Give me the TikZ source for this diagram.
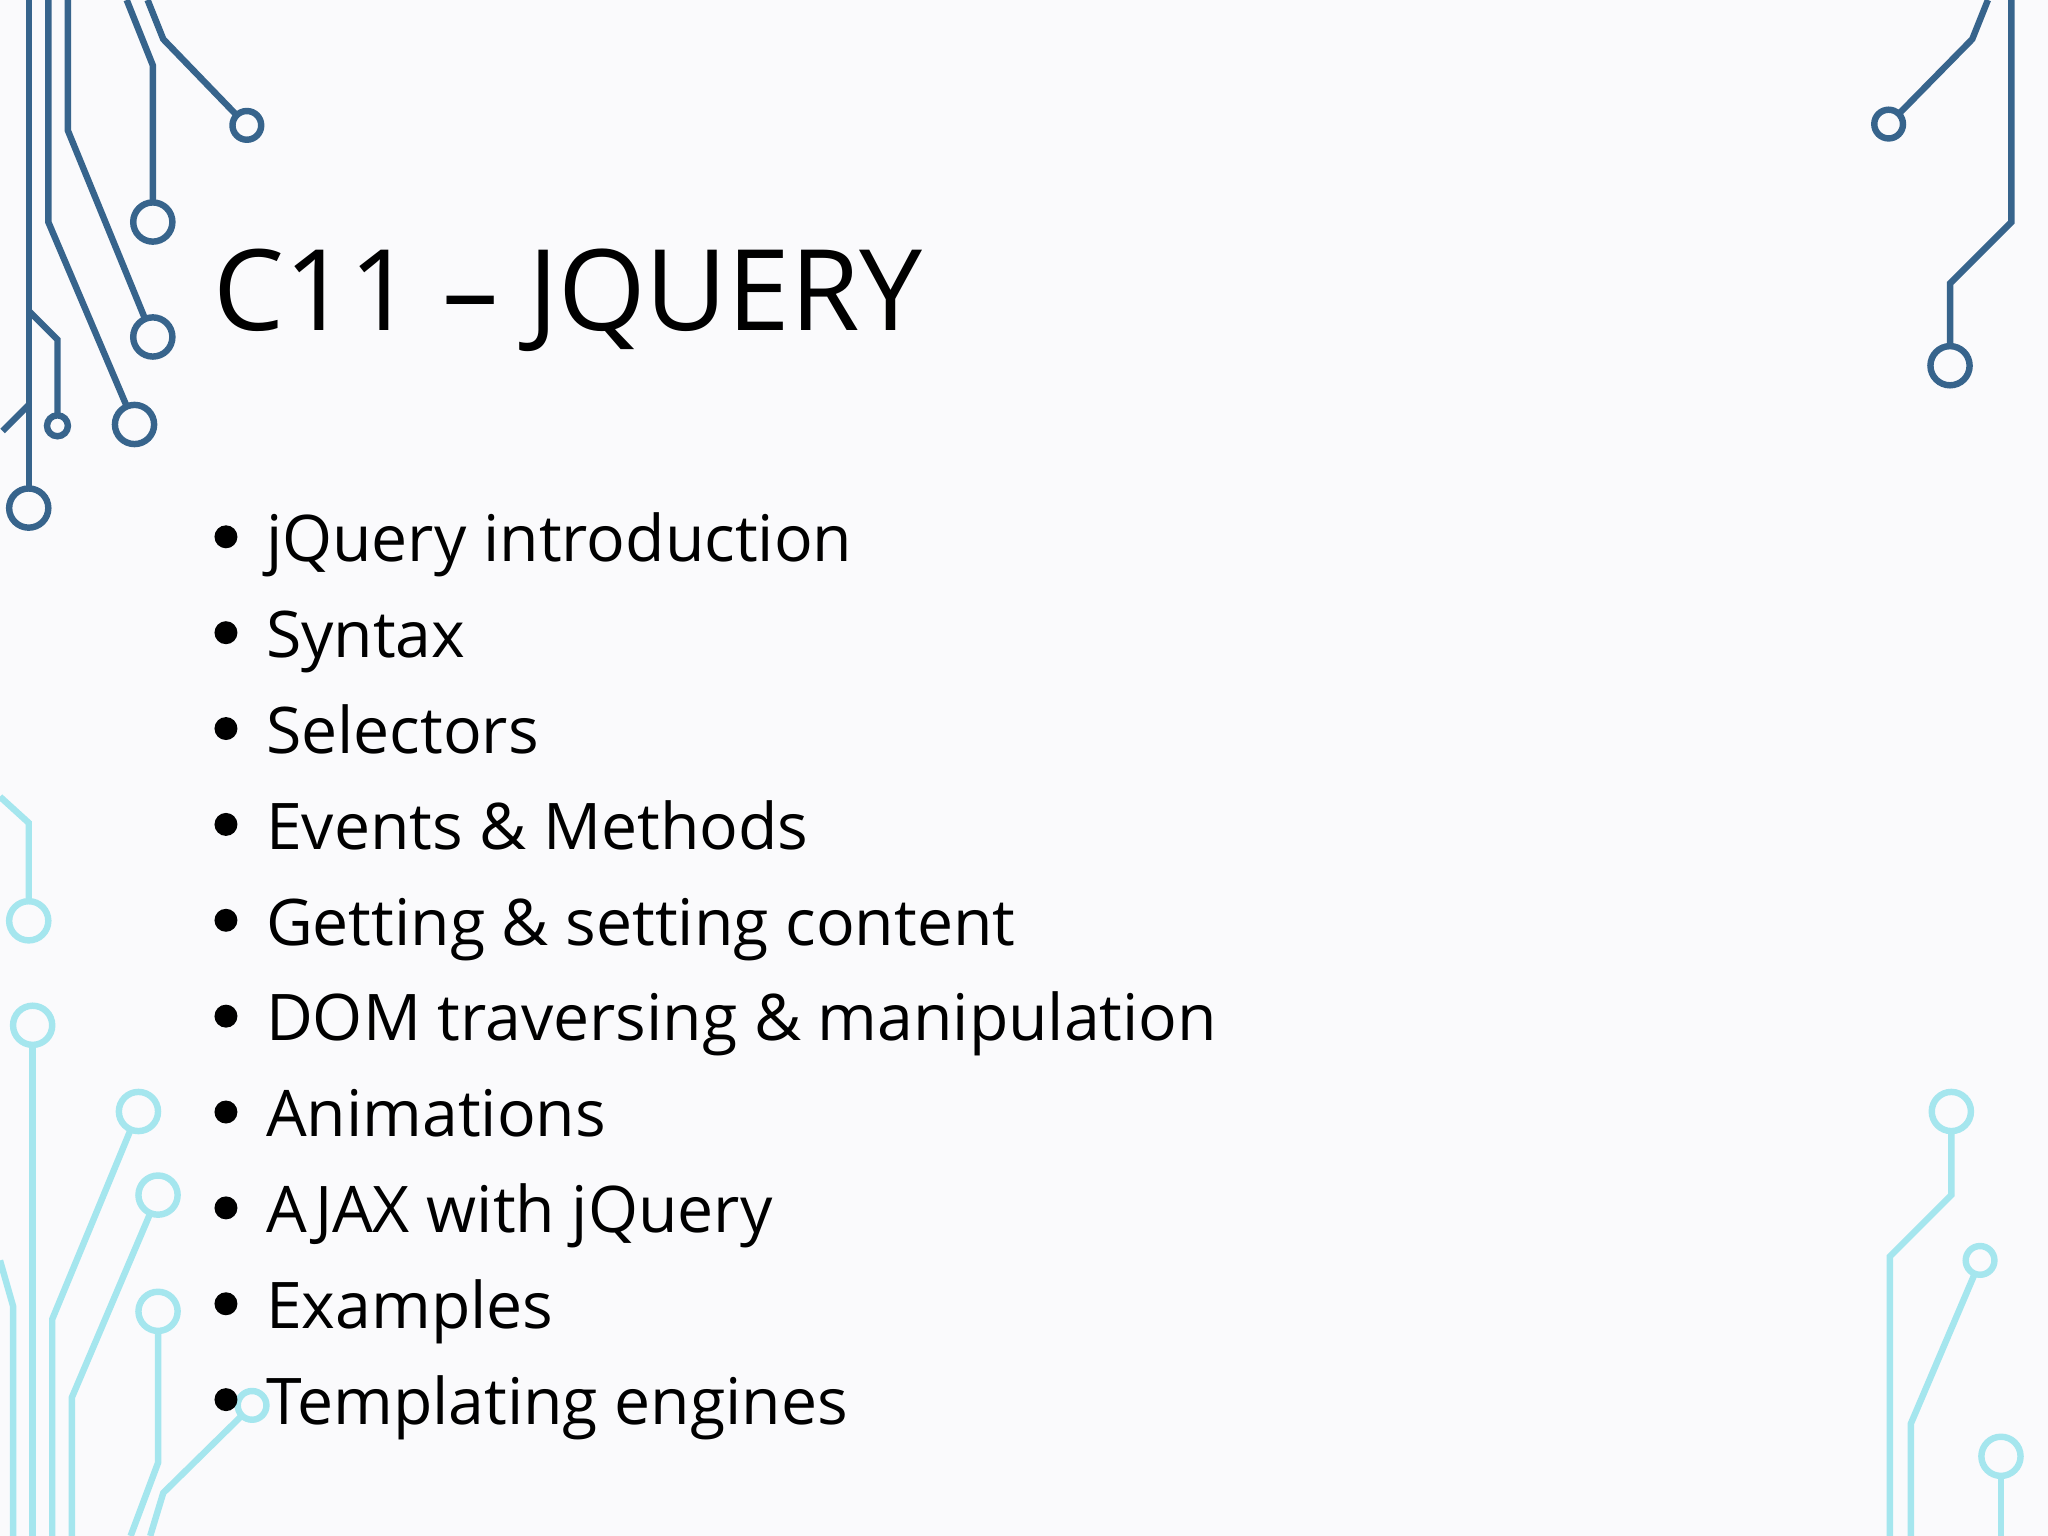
\documentclass[tikz,border=0pt]{standalone}
\usepackage{fontspec}
\setmainfont{Open Sans}
\begin{document}
\begin{tikzpicture}[x=0.01cm,y=-0.01cm,
  dk/.style={draw={rgb,255:red,55;green,100;blue,140}, line width=1.4pt},
  lt/.style={draw={rgb,255:red,165;green,230;blue,238}, line width=1.4pt},
  bl/.style={anchor=base west, font=\fontsize{14pt}{16pt}\selectfont},
  dot/.style={circle, fill=black, inner sep=0pt, minimum size=5pt}]
\fill[fill={rgb,255:red,250;green,250;blue,252}] (0,0) rectangle (1568,1176);
\useasboundingbox (0,0) rectangle (1568,1176);
% top-left
\draw[dk] (22,0)--(22,374); \draw[dk] (22,389) circle (15);
\draw[dk] (37,0)--(37,170)--(97,311); \draw[dk] (103,325) circle (15);
\draw[dk] (52,0)--(52,100)--(111,244); \draw[dk] (117,258) circle (15);
\draw[dk] (97,0)--(117,50)--(117,155); \draw[dk] (117,170) circle (15);
\draw[dk] (113,0)--(125,30)--(181,88); \draw[dk] (189,96) circle (11);
\draw[dk] (22,238)--(44,260)--(44,318); \draw[dk] (44,326) circle (8);
\draw[dk] (2,330)--(22,310);
% top-right
\draw[dk] (1522,0)--(1510,30)--(1454,87); \draw[dk] (1446,95) circle (11);
\draw[dk] (1540,0)--(1540,170)--(1493,217)--(1493,265); \draw[dk] (1493,280) circle (15);
% bottom-left
\draw[lt] (0,610)--(22,630)--(22,690); \draw[lt] (22,705) circle (15);
\draw[lt] (25,800)--(25,1176); \draw[lt] (25,785) circle (15);
\draw[lt] (100,865)--(40,1010)--(40,1176); \draw[lt] (106,851) circle (15);
\draw[lt] (115,929)--(55,1070)--(55,1176); \draw[lt] (121,915) circle (15);
\draw[lt] (121,1019)--(121,1120)--(100,1176); \draw[lt] (121,1004) circle (15);
\draw[lt] (0,965)--(10,1000)--(10,1176);
\draw[lt] (185,1084)--(125,1143)--(115,1176); \draw[lt] (193,1076) circle (11);
% bottom-right
\draw[lt] (1494,866)--(1494,915)--(1447,962)--(1447,1176); \draw[lt] (1494,851) circle (15);
\draw[lt] (1512,975)--(1463,1090)--(1463,1176); \draw[lt] (1516,965) circle (11);
\draw[lt] (1532,1130)--(1532,1176); \draw[lt] (1532,1115) circle (15);
% title
\node[anchor=base west, inner sep=0pt, font=\fontsize{24.5pt}{30pt}\selectfont] (title) at (163,253) {C11 – JQUERY};
% bullets
\foreach \t [count=\i] in {jQuery introduction,Syntax,Selectors,Events \& Methods,Getting \& setting content,DOM traversing \& manipulation,Animations,AJAX with jQuery,Examples,Templating engines}{
  \node[bl, inner sep=0pt] (b\i) at (203,430+73.4*\i-73.4) {\t};
  \node[dot] (d\i) at (173,411+73.4*\i-73.4) {};
}
\end{tikzpicture}
\end{document}
